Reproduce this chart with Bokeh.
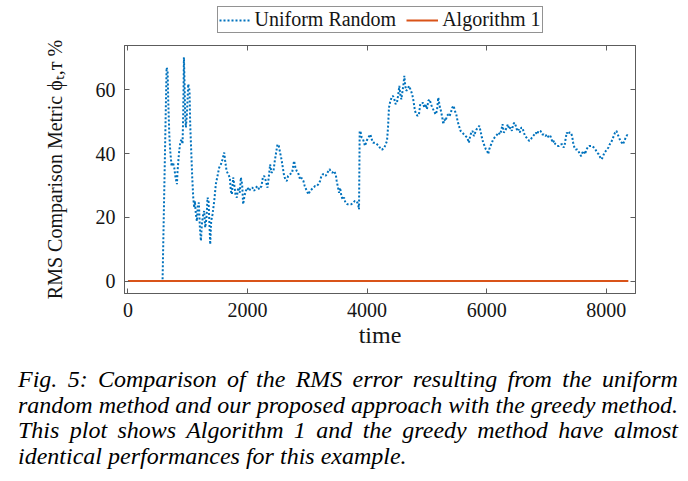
from bokeh.plotting import figure
from bokeh.models import (Range1d, FixedTicker, LinearAxis, Legend, LegendItem, Div,
                          CustomJSTickFormatter)
from bokeh.layouts import column
from bokeh.embed import file_html
from bokeh.resources import INLINE

# ---------------- data ----------------
time_uniform = [
    0, 570, 579, 646, 663, 674, 691, 707, 730, 752, 774, 796, 819, 830, 852, 874, 897, 913, 925, 936,
    947, 958, 969, 986, 1008, 1030, 1041, 1058, 1075, 1092, 1108, 1119, 1136, 1153, 1170, 1186, 1203,
    1220, 1236, 1259, 1275, 1292, 1314, 1331, 1348, 1365, 1376, 1392, 1415, 1443, 1470, 1498, 1526,
    1554, 1582, 1610, 1626, 1649, 1676, 1704, 1721, 1738, 1760, 1777, 1799, 1821, 1844, 1871, 1888,
    1910, 1927, 1949, 1972, 1999, 2027, 2055, 2083, 2111, 2139, 2167, 2194,
    2233, 2256, 2278, 2306, 2334, 2361, 2378, 2400, 2434, 2456, 2478, 2501, 2523, 2545, 2568, 2590,
    2612, 2634, 2657, 2679, 2712, 2746, 2768, 2779, 2801, 2824, 2846, 2879, 2902, 2935, 2957, 2991,
    3019, 3046, 3074, 3102, 3130, 3158, 3186, 3214, 3236, 3258, 3280, 3308, 3336, 3370, 3392, 3420,
    3447, 3475, 3492, 3514, 3531, 3548, 3570, 3592, 3615, 3637, 3670, 3704, 3737, 3771, 3793, 3826,
    3849, 3865, 3876, 3893, 3910, 3932, 3965, 3993, 4021, 4055, 4077, 4099, 4133, 4166, 4199, 4227,
    4255, 4289, 4311, 4333, 4350, 4366, 4389, 4411, 4433, 4456, 4478, 4500, 4522, 4539, 4556, 4573,
    4589, 4606, 4623, 4639, 4656, 4678, 4701, 4723, 4745, 4767, 4784, 4801, 4823, 4845, 4868, 4890,
    4912, 4935, 4957, 4979, 5001, 5024, 5046, 5068, 5091, 5118, 5146, 5169, 5191, 5213, 5235, 5258,
    5274, 5291, 5313, 5336, 5358, 5380, 5402, 5425, 5447, 5469, 5492, 5514, 5536,
    5564, 5592, 5620, 5647, 5675, 5703, 5720, 5742, 5764, 5787, 5809, 5831, 5853, 5876, 5898, 5920,
    5943, 5965, 5987, 6010, 6026, 6043, 6065, 6087, 6110, 6132, 6154, 6177, 6199, 6221, 6243, 6266,
    6288, 6310, 6333, 6355, 6377, 6399, 6422, 6444, 6466, 6488, 6511, 6533, 6555, 6578, 6600, 6622,
    6644, 6667, 6689, 6711, 6733, 6756, 6778, 6800, 6822, 6845, 6867,
    6901, 6928, 6956, 6984, 7012, 7040, 7068, 7084, 7107, 7129, 7151, 7179, 7207, 7235, 7263, 7290,
    7307, 7324, 7341, 7363, 7385, 7407, 7430, 7447, 7469, 7491, 7513, 7536, 7558, 7580, 7602, 7625,
    7647, 7669, 7691, 7714, 7736, 7764, 7792, 7820, 7847, 7875, 7903, 7925, 7948, 7970, 7992, 8014,
    8037, 8059, 8081, 8104, 8126, 8148, 8171, 8193, 8215, 8237, 8260, 8282, 8304, 8326, 8349, 8366,
]
phi_uniform = [
    0, 0, 0.5, 67.0, 66.0, 56.5, 46.0, 40.8, 36.0, 37.2, 35.6, 32.5, 30.4, 34.6, 39.8, 43.5, 44.5, 43.0, 53.0, 70.2,
    61.8, 51.3, 48.2, 52.4, 61.8, 59.7, 49.2, 40.8, 32.5, 26.2, 23.0, 25.1, 21.0, 18.8, 24.1, 24.6, 16.8,
    12.6, 17.8, 21.0, 22.0, 16.8, 19.9, 26.2, 25.1, 16.8, 11.5, 18.8, 21.0, 25.1, 30.4, 33.0, 35.6,
    36.6, 38.2, 40.3, 37.7, 34.6, 33.5, 32.5, 28.3, 27.2, 32.5, 30.4, 27.2, 26.2, 29.3, 27.7, 32.5,
    30.4, 24.1, 26.7, 28.3, 29.3, 28.3, 29.3, 29.3, 28.3, 29.3, 29.8, 28.8,
    29.8, 32.4, 33.0, 31.4, 29.3, 33.5, 36.6, 34.0, 34.5, 37.7, 40.3, 42.9, 42.4, 40.3, 38.2, 35.6,
    33.0, 31.9, 31.4, 33.0, 33.5, 34.0, 36.6, 37.7, 35.6, 34.5, 34.0, 31.9, 32.4, 31.4, 29.8, 28.3,
    27.2, 28.3, 28.8, 29.3, 29.8, 29.8, 30.4, 31.4, 33.0, 33.5, 33.5, 33.0, 34.0, 35.1, 34.5, 34.0,
    34.5, 33.5, 31.4, 29.3, 27.7, 29.3, 26.7, 25.6, 26.2, 24.6, 24.1, 24.1, 24.1, 24.6, 25.1, 25.1,
    24.1, 22.5, 47.1, 46.6, 45.0, 44.5, 42.4, 44.0, 45.0, 46.0, 44.5, 43.4, 43.4, 42.9, 42.4, 41.3,
    41.3, 41.9, 42.9, 44.0, 48.1, 54.4, 56.5, 57.6, 58.1, 57.0, 55.5, 56.0, 58.6, 61.2, 58.6, 57.0,
    59.1, 61.2, 64.4, 61.2, 59.7, 60.2, 61.2, 60.2, 59.1, 57.6, 55.5, 53.4, 52.3, 51.8, 52.3, 55.5,
    55.5, 56.0, 54.4, 55.5, 53.9, 56.5, 57.0, 55.5, 54.4, 53.4, 52.3, 53.4, 57.6, 55.0, 53.4, 51.3,
    49.2, 50.8, 50.2, 51.8, 52.3, 51.8, 52.9, 54.4, 55.0, 53.4, 52.3, 50.2, 48.7,
    47.1, 46.6, 46.0, 45.5, 45.0, 43.4, 45.0, 46.6, 47.1, 45.5, 46.6, 47.6, 48.1, 48.7, 47.1, 45.0,
    43.4, 42.4, 41.3, 40.8, 39.8, 41.3, 42.4, 43.4, 44.5, 45.0, 45.5, 46.0, 46.6, 46.0, 47.1, 49.2,
    46.6, 47.1, 48.1, 49.2, 47.6, 48.1, 47.1, 49.2, 49.7, 48.7, 47.1, 47.6, 46.6, 48.1, 48.1, 46.6,
    45.5, 45.0, 44.5, 44.0, 44.2, 45.0, 45.5, 46.0, 46.6, 46.0, 47.1,
    47.1, 46.0, 46.0, 45.5, 46.0, 45.0, 45.5, 44.5, 43.4, 44.0, 42.9, 42.4, 42.4, 42.9, 42.9, 41.9,
    42.9, 45.0, 46.6, 46.0, 46.6, 46.6, 45.5, 43.4, 41.9, 41.3, 41.3, 40.8, 39.8, 39.2, 40.3, 40.8,
    39.8, 41.3, 41.9, 42.4, 42.4, 42.4, 41.9, 41.3, 40.3, 39.8, 38.7, 38.2, 39.2, 40.3, 40.8, 41.3,
    41.9, 42.9, 43.4, 44.5, 45.5, 46.6, 47.1, 46.0, 45.0, 44.0, 43.4, 42.9, 44.0, 45.0, 45.8, 45.5,
]
time_alg1 = [0, 8370]
phi_alg1 = [0.0, 0.0]

series_names = ["Uniform Random", "Algorithm 1"]
x_ticks = [0, 2000, 4000, 6000, 8000]
y_ticks = [0, 20, 40, 60]
x_label = "time"
y_label = "RMS Comparison Metric \u03d5\u209c,\u1d1b %"
caption_lines = [
    "Fig. 5: Comparison of the RMS error resulting from the uniform",
    "random method and our proposed approach with the greedy method.",
    "This plot shows Algorithm 1 and the greedy method have almost",
    "identical performances for this example.",
]

# ---------------- styling ----------------
FONT = "Liberation Serif"
AXIS_COLOR = "#5c5c5c"
TEXT_COLOR = "#151515"
BLUE = "#0072BD"
ORANGE = "#D95319"
UNI_STYLE = dict(line_color=BLUE, line_width=2, line_dash="2 2")
ALG_STYLE = dict(line_color=ORANGE, line_width=2)
BORDER_L, BORDER_R = 124, 53

# ---- main chart ----
p = figure(width=688, height=324, output_backend="svg", toolbar_location=None,
           x_range=Range1d(-58, 8490), y_range=Range1d(-3.9, 73.9),
           min_border_left=BORDER_L, min_border_right=BORDER_R, min_border_top=9, min_border_bottom=67)
p.grid.visible = False
p.outline_line_color = AXIS_COLOR
p.outline_line_width = 1


def style_axis(ax, ticks, labels=True):
    ax.ticker = FixedTicker(ticks=ticks)
    ax.major_tick_in = 5
    ax.major_tick_out = 0
    ax.minor_tick_line_color = None
    ax.axis_line_color = AXIS_COLOR
    ax.major_tick_line_color = AXIS_COLOR
    ax.major_label_text_font = FONT
    if labels:
        ax.major_label_text_font_size = "20px"
        ax.major_label_text_color = TEXT_COLOR
        ax.major_label_standoff = 9
    else:
        ax.formatter = CustomJSTickFormatter(code="return ''")
        ax.major_label_text_font_size = "1px"
        ax.major_label_text_color = None
        ax.major_label_standoff = 0


style_axis(p.xaxis[0], x_ticks)
style_axis(p.yaxis[0], y_ticks)
for ax, lab, size in ((p.xaxis[0], x_label, "24px"), (p.yaxis[0], y_label, "20px")):
    ax.axis_label = lab
    ax.axis_label_text_font = FONT
    ax.axis_label_text_font_size = size
    ax.axis_label_text_font_style = "normal"
    ax.axis_label_text_color = TEXT_COLOR
p.xaxis[0].axis_label_standoff = 2
p.yaxis[0].axis_label_standoff = 27

top_axis = LinearAxis()
style_axis(top_axis, x_ticks, labels=False)
p.add_layout(top_axis, "above")
right_axis = LinearAxis()
style_axis(right_axis, y_ticks, labels=False)
p.add_layout(right_axis, "right")

p.line(time_uniform, phi_uniform, **UNI_STYLE)
p.line(time_alg1, phi_alg1, **ALG_STYLE)

# ---- legend strip above the chart (same series, drawn off-range so only the key shows) ----
leg_fig = figure(width=688, height=36, output_backend="svg", toolbar_location=None,
                 x_range=Range1d(0, 1), y_range=Range1d(-20, -10),
                 x_axis_location=None, y_axis_location=None,
                 min_border_left=BORDER_L, min_border_right=BORDER_R,
                 min_border_top=0, min_border_bottom=0)
leg_fig.grid.visible = False
leg_fig.outline_line_color = None
k_uni = leg_fig.line(time_uniform, phi_uniform, **UNI_STYLE)
k_alg = leg_fig.line(time_alg1, phi_alg1, **ALG_STYLE)

legend = Legend(items=[LegendItem(label=series_names[0], renderers=[k_uni]),
                       LegendItem(label=series_names[1], renderers=[k_alg])],
                orientation="horizontal", location="bottom_center")
legend.label_text_font = FONT
legend.label_text_font_size = "20px"
legend.label_text_color = TEXT_COLOR
legend.glyph_width = 32
legend.glyph_height = 20
legend.label_height = 20
legend.label_standoff = 4
legend.spacing = 10
legend.padding = 1
legend.margin = 3
legend.border_line_color = "#262626"
legend.border_line_width = 1
legend.background_fill_alpha = 1
leg_fig.add_layout(legend, "center")

rows = []
for i, line in enumerate(caption_lines):
    last = "justify" if i < len(caption_lines) - 1 else "left"
    rows.append(f'<div style="text-align:justify;text-align-last:{last};white-space:nowrap;">{line}</div>')
caption = Div(text="".join(rows), width=665, margin=(7, 0, 0, 18),
              styles={"font-family": "'Liberation Serif', serif", "font-style": "italic",
                      "font-size": "24px", "line-height": "25.5px", "color": "#000"})

layout = column(leg_fig, p, caption)
open("out.html", "w").write(file_html(layout, INLINE))
